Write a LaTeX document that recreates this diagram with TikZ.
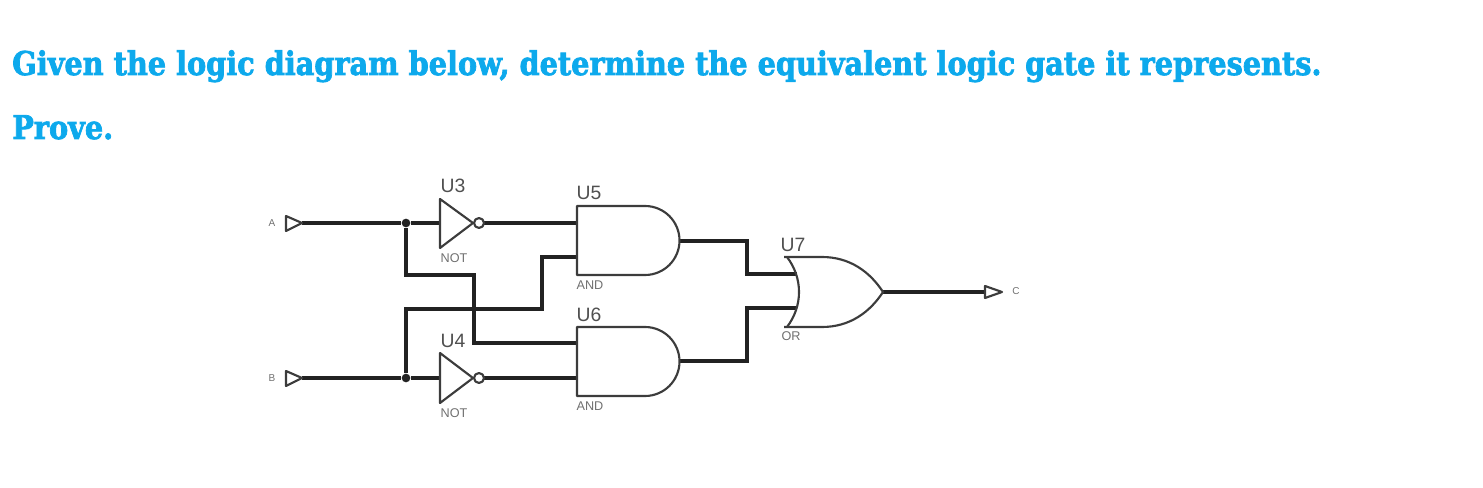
\documentclass[tikz,border=0pt]{standalone}
\usepackage{fontspec}
\setmainfont{Liberation Sans}
\newfontfamily\titlefont[FakeStretch=0.88,FakeBold=2.2]{DejaVu Serif Bold}
\definecolor{titleblue}{HTML}{0DA9EC}
\definecolor{wirecol}{HTML}{222222}
\definecolor{gatecol}{HTML}{3C3C3C}
\definecolor{labcol}{HTML}{505050}
\definecolor{smallcol}{HTML}{707070}
\tikzset{
  wire/.style={draw=wirecol,line width=2.3pt,line join=miter},
  gate/.style={draw=gatecol,line width=1.6pt,line join=round,fill=white},
  title/.style={anchor=base west,inner sep=0pt,text=titleblue,font=\titlefont\fontsize{24.5}{28}\selectfont},
  reflab/.style={inner sep=0pt,text=labcol,font=\fontsize{14.5}{15}\selectfont},
  typelab/.style={inner sep=0pt,text=smallcol,font=\fontsize{9.5}{10}\selectfont},
  pinlab/.style={inner sep=0pt,text=smallcol,font=\fontsize{7.5}{8}\selectfont},
  junction/.style={circle,fill=wirecol,inner sep=0pt,minimum size=6.5pt}
}
\begin{document}
\begin{tikzpicture}[x=0.75pt,y=-0.75pt]
\useasboundingbox (0,0) rectangle (1483,488);
\node[title] (t1) at (12,75) {Given the logic diagram below, determine the equivalent logic gate it represents.};
\node[title] (t2) at (12,139) {Prove.};
% pins
\coordinate (A) at (302,223);
\coordinate (B) at (302,378);
\coordinate (C) at (985,292);
\node[junction] (ja) at (406,223) {};
\node[junction] (jb) at (406,378) {};
\coordinate (n3i) at (440,223);
\coordinate (n3o) at (484,223);
\coordinate (n4i) at (440,378);
\coordinate (n4o) at (484,378);
\coordinate (u5a) at (577,223);
\coordinate (u5b) at (577,257);
\coordinate (u6a) at (577,343);
\coordinate (u6b) at (577,378);
\coordinate (u5o) at (680,241);
\coordinate (u6o) at (680,361);
\coordinate (u7a) at (797,274);
\coordinate (u7b) at (797,308);
\coordinate (u7o) at (883,292);
% wires
\draw[wire] (A) -- (ja) -- (n3i);
\draw[wire] (n3o) -- (u5a);
\draw[wire] (B) -- (jb) -- (n4i);
\draw[wire] (n4o) -- (u6b);
\draw[wire] (ja) |- (474,275) |- (u6a);
\draw[wire] (jb) |- (542,309) |- (u5b);
\draw[wire] (u5o) -| (747,274) -- (u7a);
\draw[wire] (u6o) -| (747,308) -- (u7b);
\draw[wire] (u7o) -- (C);
% terminals
\draw[gate] (286,216) -- (302,223) -- (286,231) -- cycle;
\draw[gate] (286,371) -- (302,378) -- (286,386) -- cycle;
\draw[gate] (985,286) -- (1002,292) -- (985,298) -- cycle;
% NOT gates
\draw[gate] (440,199) -- (473,223) -- (440,248) -- cycle;
\draw[gate] (479,223) circle[radius=5];
\draw[gate] (440,353) -- (473,378) -- (440,403) -- cycle;
\draw[gate] (479,378) circle[radius=5];
% AND gates
\draw[gate] (577,206) -- (645,206) arc[start angle=-90,end angle=90,radius=34.5] -- (577,275) -- cycle;
\draw[gate] (577,327) -- (645,327) arc[start angle=-90,end angle=90,radius=34.5] -- (577,396) -- cycle;
% OR gate
\draw[gate,fill=none] (784,257) -- (822,257) .. controls (850,257) and (870,272) .. (883,292) .. controls (870,312) and (850,327) .. (822,327) -- (784,327);
\draw[gate,fill=none] (787,257) .. controls (803,278) and (803,306) .. (787,327);
% labels
\node[pinlab] (la) at (272,223) {A};
\node[pinlab] (lb) at (272,378) {B};
\node[pinlab] (lc) at (1016,291) {C};
\node[reflab] (l3) at (453,186) {U3};
\node[reflab] (l4) at (453,341) {U4};
\node[reflab] (l5) at (589,193) {U5};
\node[reflab] (l6) at (589,315) {U6};
\node[reflab] (l7) at (793,245) {U7};
\node[typelab] (n1) at (454,258) {NOT};
\node[typelab] (n2) at (454,413) {NOT};
\node[typelab] (a1) at (590,285) {AND};
\node[typelab] (a2) at (590,406) {AND};
\node[typelab] (o1) at (791,336) {OR};
\end{tikzpicture}
\end{document}
